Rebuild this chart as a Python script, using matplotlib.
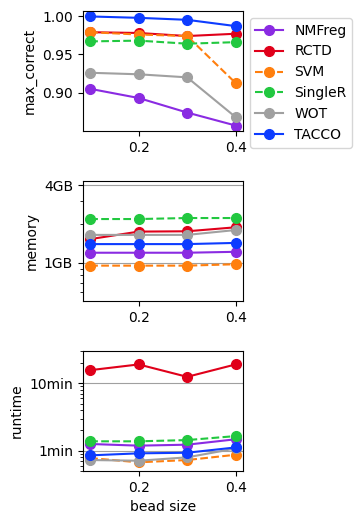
import matplotlib
matplotlib.use("Agg")
import matplotlib.pyplot as plt
from matplotlib.ticker import FixedLocator, FixedFormatter, LogLocator, NullFormatter

bead_size = [0.1, 0.2, 0.3, 0.4]
methods = ["NMFreg", "RCTD", "SVM", "SingleR", "WOT", "TACCO"]
colors = ["#8a2be2", "#e0001a", "#ff7f0e", "#22c840", "#a0a0a0", "#0d3cff"]
styles = ["-", "-", "--", "--", "-", "-"]

max_correct = {
    "NMFreg": [0.905, 0.893, 0.874, 0.857],
    "RCTD": [0.979, 0.978, 0.974, 0.977],
    "SVM": [0.979, 0.976, 0.974, 0.9126],
    "SingleR": [0.967, 0.968, 0.964, 0.966],
    "WOT": [0.926, 0.924, 0.920, 0.868],
    "TACCO": [0.9996, 0.9978, 0.9952, 0.987],
}
memory_gb = {
    "NMFreg": [1.20, 1.20, 1.20, 1.22],
    "RCTD": [1.53, 1.75, 1.76, 1.89],
    "SVM": [0.953, 0.953, 0.953, 0.977],
    "SingleR": [2.19, 2.19, 2.23, 2.23],
    "WOT": [1.65, 1.65, 1.65, 1.80],
    "TACCO": [1.40, 1.40, 1.40, 1.43],
}
runtime_min = {
    "NMFreg": [1.26, 1.19, 1.23, 1.48],
    "RCTD": [15.7, 19.1, 12.5, 19.1],
    "SVM": [0.779, 0.673, 0.728, 0.872],
    "SingleR": [1.38, 1.38, 1.44, 1.65],
    "WOT": [0.728, 0.711, 0.798, 1.08],
    "TACCO": [0.854, 0.915, 0.934, 1.12],
}

mem_ticks = [1, 4]
mem_labels = ["1GB", "4GB"]
rt_ticks = [1, 10]
rt_labels = ["1min", "10min"]

fig = plt.figure(figsize=(3.62, 5.24), dpi=100)
left, width = 0.229, 0.442
ax1 = fig.add_axes([left, 0.750, width, 0.229])
ax2 = fig.add_axes([left, 0.4256, width, 0.229])
ax3 = fig.add_axes([left, 0.1011, width, 0.229])

ms = 7
for m, c, ls in zip(methods, colors, styles):
    ax1.plot(bead_size, max_correct[m], ls, color=c, marker="o", ms=ms, label=m)
    ax2.plot(bead_size, memory_gb[m], ls, color=c, marker="o", ms=ms)
    ax3.plot(bead_size, runtime_min[m], ls, color=c, marker="o", ms=ms)

ax1.set_ylabel("max_correct")
ax1.set_yticks([0.90, 0.95, 1.00])

for ax, ticks, labels, lim in [(ax2, mem_ticks, mem_labels, (0.507, 4.32)),
                               (ax3, rt_ticks, rt_labels, (0.5, 30.2))]:
    ax.set_yscale("log")
    for t in ticks:
        ax.axhline(t, color="#a0a0a0", lw=0.8, zorder=0)
    ax.yaxis.set_major_locator(FixedLocator(ticks))
    ax.yaxis.set_major_formatter(FixedFormatter(labels))
    ax.yaxis.set_minor_locator(LogLocator(base=10, subs=range(2, 10)))
    ax.yaxis.set_minor_formatter(NullFormatter())
    ax.set_ylim(*lim)

ax2.set_ylabel("memory")
ax3.set_ylabel("runtime")
ax3.set_xlabel("bead size")

for ax in (ax1, ax2, ax3):
    ax.set_xticks([0.2, 0.4])
    ax.set_xticklabels(["0.2", "0.4"])

ax1.legend(loc="upper left", bbox_to_anchor=(1.0, 1.0))

fig.savefig("out.png", dpi=100)
